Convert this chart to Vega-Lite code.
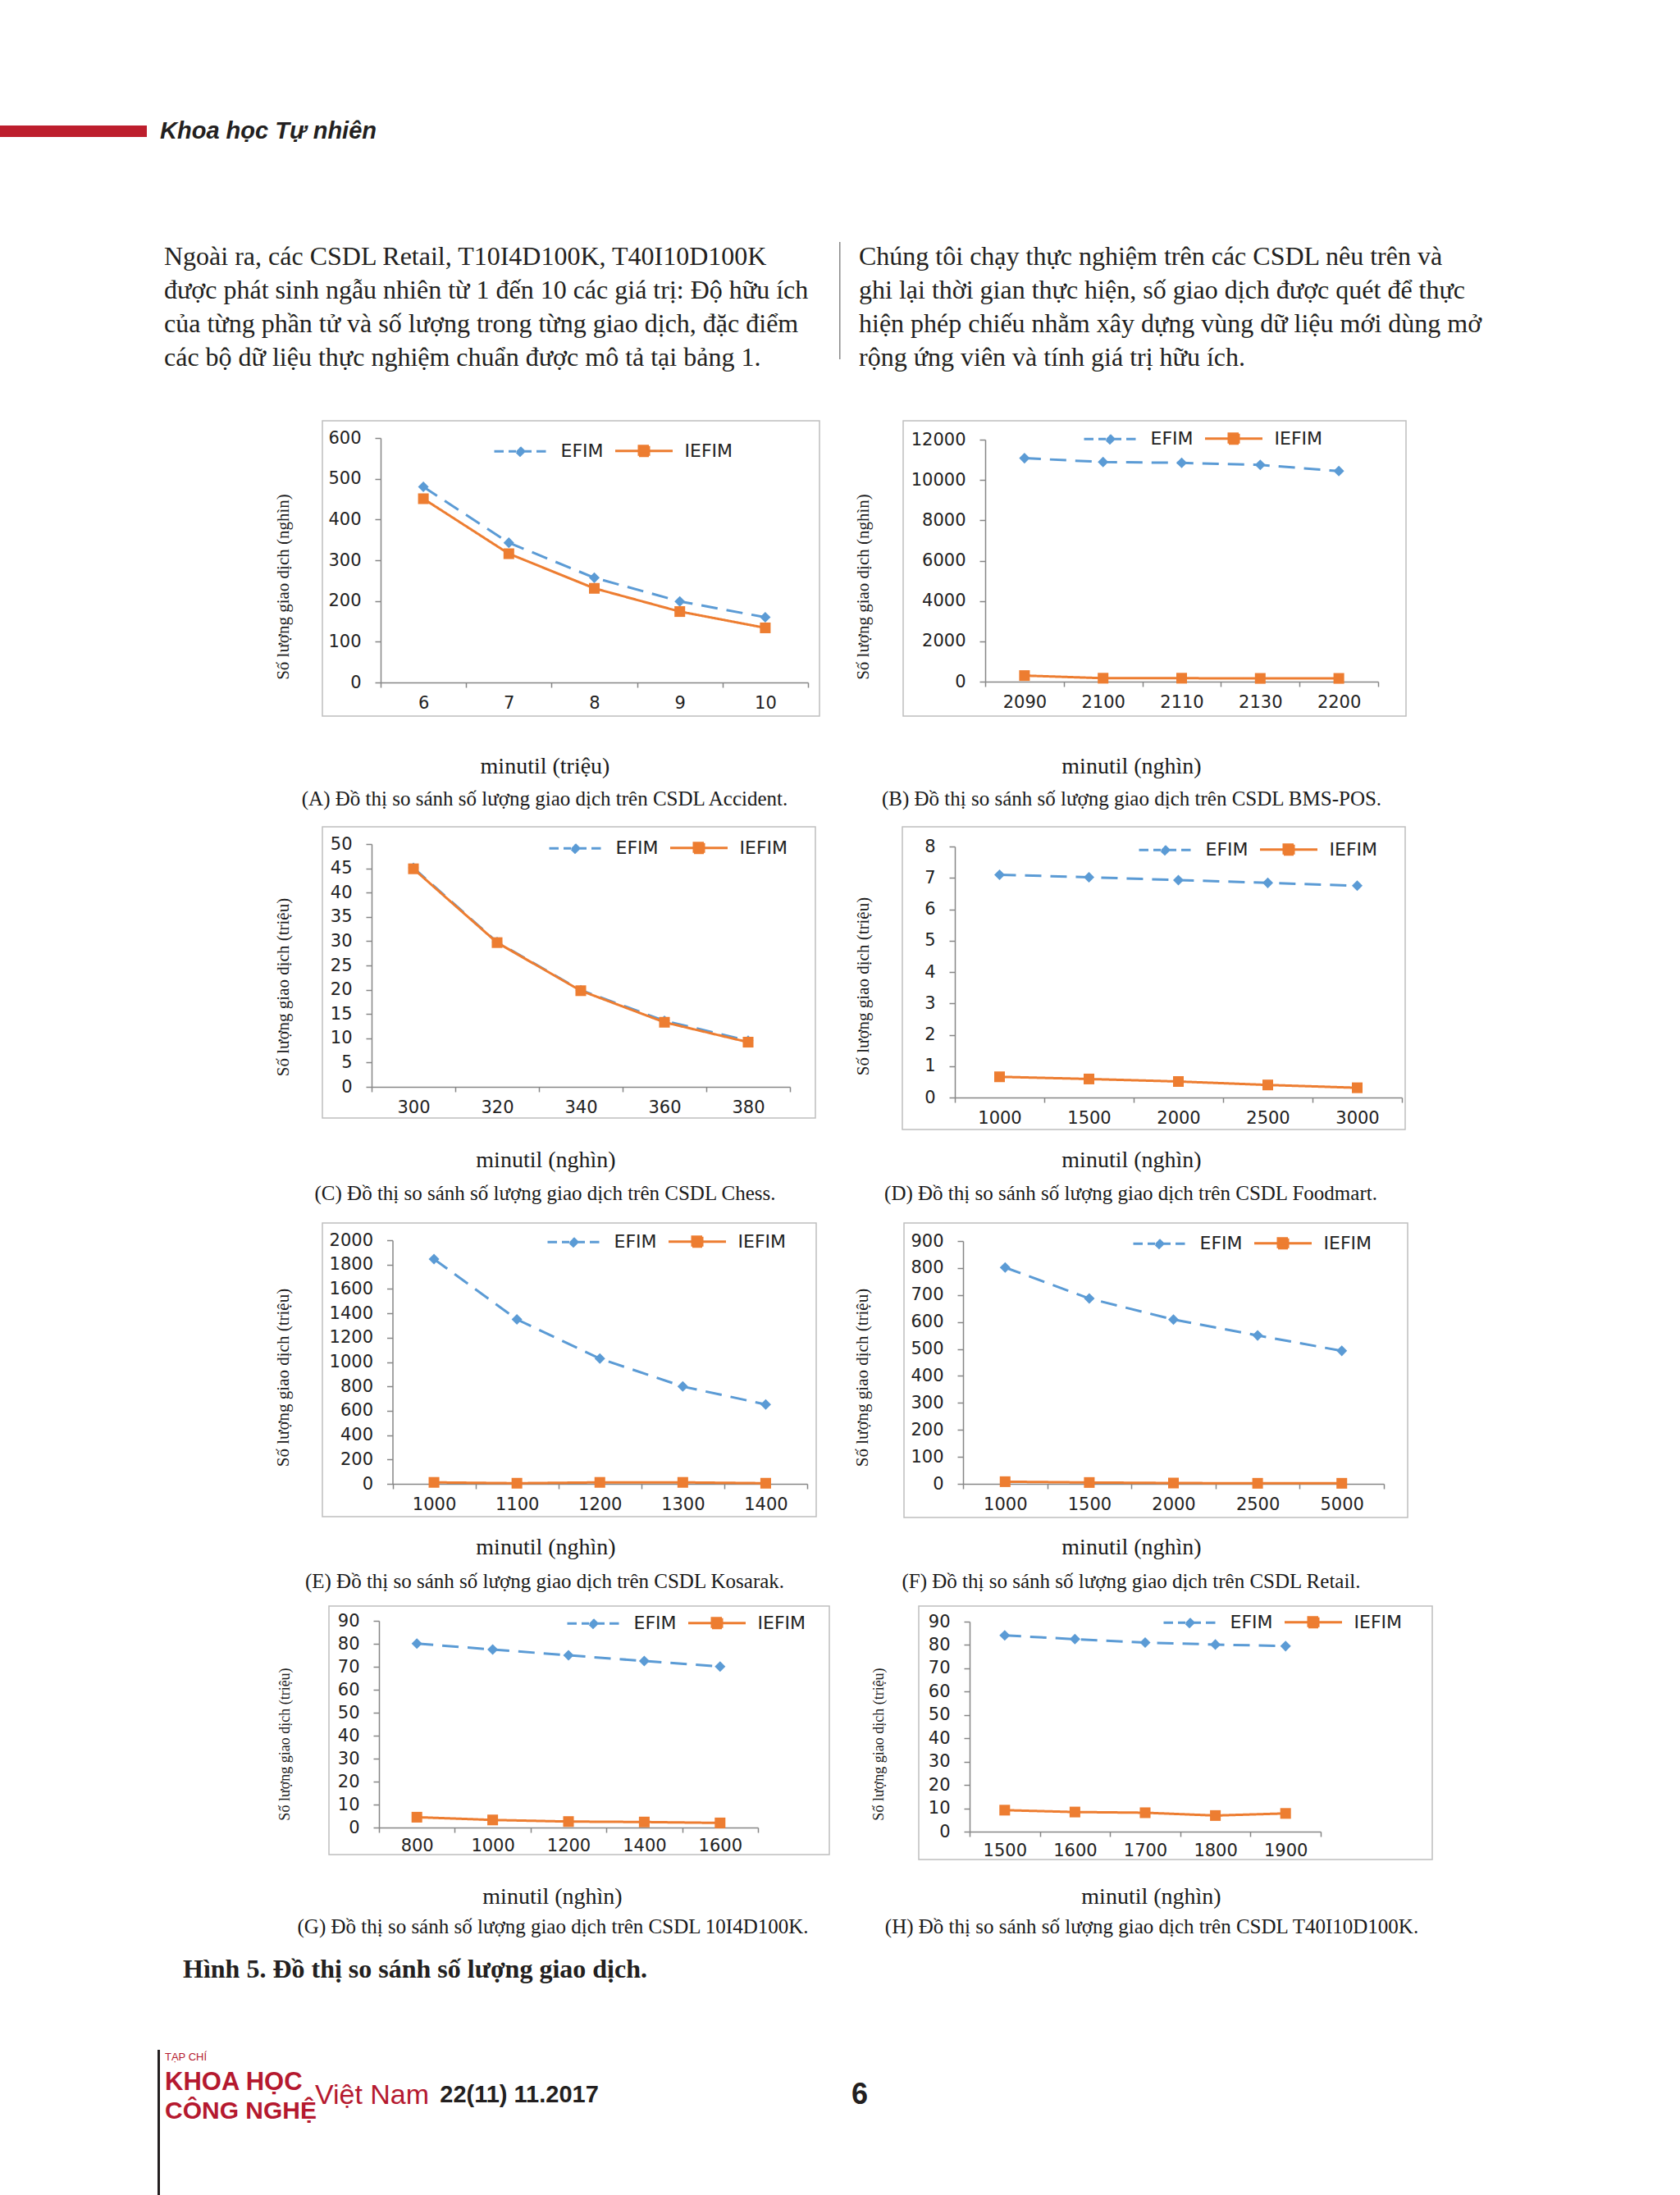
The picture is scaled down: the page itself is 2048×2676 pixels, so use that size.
{
"$schema": "https://vega.github.io/schema/vega-lite/v6.json",
"background": "white",
"padding": 0,
"spacing": 0,
"resolve": {"scale": {"color": "independent", "strokeDash": "independent"}, "legend": {"color": "independent", "strokeDash": "independent"}},
"datasets": {
"A": [
{"minutil": 6, "series": "EFIM", "value": 480},{"minutil": 7, "series": "EFIM", "value": 343},{"minutil": 8, "series": "EFIM", "value": 257},{"minutil": 9, "series": "EFIM", "value": 199},{"minutil": 10, "series": "EFIM", "value": 160},
{"minutil": 6, "series": "IEFIM", "value": 451},{"minutil": 7, "series": "IEFIM", "value": 316},{"minutil": 8, "series": "IEFIM", "value": 231},{"minutil": 9, "series": "IEFIM", "value": 174},{"minutil": 10, "series": "IEFIM", "value": 134}],
"B": [
{"minutil": 2090, "series": "EFIM", "value": 11080},{"minutil": 2100, "series": "EFIM", "value": 10890},{"minutil": 2110, "series": "EFIM", "value": 10850},{"minutil": 2130, "series": "EFIM", "value": 10750},{"minutil": 2200, "series": "EFIM", "value": 10440},
{"minutil": 2090, "series": "IEFIM", "value": 300},{"minutil": 2100, "series": "IEFIM", "value": 170},{"minutil": 2110, "series": "IEFIM", "value": 170},{"minutil": 2130, "series": "IEFIM", "value": 160},{"minutil": 2200, "series": "IEFIM", "value": 160}],
"C": [
{"minutil": 300, "series": "EFIM", "value": 45.1},{"minutil": 320, "series": "EFIM", "value": 29.8},{"minutil": 340, "series": "EFIM", "value": 19.9},{"minutil": 360, "series": "EFIM", "value": 13.6},{"minutil": 380, "series": "EFIM", "value": 9.5},
{"minutil": 300, "series": "IEFIM", "value": 44.9},{"minutil": 320, "series": "IEFIM", "value": 29.7},{"minutil": 340, "series": "IEFIM", "value": 19.8},{"minutil": 360, "series": "IEFIM", "value": 13.3},{"minutil": 380, "series": "IEFIM", "value": 9.2}],
"D": [
{"minutil": 1000, "series": "EFIM", "value": 7.10},{"minutil": 1500, "series": "EFIM", "value": 7.02},{"minutil": 2000, "series": "EFIM", "value": 6.93},{"minutil": 2500, "series": "EFIM", "value": 6.84},{"minutil": 3000, "series": "EFIM", "value": 6.75},
{"minutil": 1000, "series": "IEFIM", "value": 0.66},{"minutil": 1500, "series": "IEFIM", "value": 0.59},{"minutil": 2000, "series": "IEFIM", "value": 0.51},{"minutil": 2500, "series": "IEFIM", "value": 0.40},{"minutil": 3000, "series": "IEFIM", "value": 0.31}],
"E": [
{"minutil": 1000, "series": "EFIM", "value": 1845},{"minutil": 1100, "series": "EFIM", "value": 1350},{"minutil": 1200, "series": "EFIM", "value": 1028},{"minutil": 1300, "series": "EFIM", "value": 799},{"minutil": 1400, "series": "EFIM", "value": 652},
{"minutil": 1000, "series": "IEFIM", "value": 12},{"minutil": 1100, "series": "IEFIM", "value": 5},{"minutil": 1200, "series": "IEFIM", "value": 12},{"minutil": 1300, "series": "IEFIM", "value": 12},{"minutil": 1400, "series": "IEFIM", "value": 5}],
"F": [
{"minutil": 1000, "series": "EFIM", "value": 802},{"minutil": 1500, "series": "EFIM", "value": 687},{"minutil": 2000, "series": "EFIM", "value": 609},{"minutil": 2500, "series": "EFIM", "value": 550},{"minutil": 5000, "series": "EFIM", "value": 493},
{"minutil": 1000, "series": "IEFIM", "value": 8},{"minutil": 1500, "series": "IEFIM", "value": 5},{"minutil": 2000, "series": "IEFIM", "value": 3},{"minutil": 2500, "series": "IEFIM", "value": 2},{"minutil": 5000, "series": "IEFIM", "value": 2}],
"G": [
{"minutil": 800, "series": "EFIM", "value": 80.1},{"minutil": 1000, "series": "EFIM", "value": 77.5},{"minutil": 1200, "series": "EFIM", "value": 75.0},{"minutil": 1400, "series": "EFIM", "value": 72.5},{"minutil": 1600, "series": "EFIM", "value": 70.1},
{"minutil": 800, "series": "IEFIM", "value": 4.5},{"minutil": 1000, "series": "IEFIM", "value": 3.3},{"minutil": 1200, "series": "IEFIM", "value": 2.6},{"minutil": 1400, "series": "IEFIM", "value": 2.4},{"minutil": 1600, "series": "IEFIM", "value": 2.0}],
"H": [
{"minutil": 1500, "series": "EFIM", "value": 84.1},{"minutil": 1600, "series": "EFIM", "value": 82.5},{"minutil": 1700, "series": "EFIM", "value": 81.0},{"minutil": 1800, "series": "EFIM", "value": 80.2},{"minutil": 1900, "series": "EFIM", "value": 79.5},
{"minutil": 1500, "series": "IEFIM", "value": 9.2},{"minutil": 1600, "series": "IEFIM", "value": 8.4},{"minutil": 1700, "series": "IEFIM", "value": 8.1},{"minutil": 1800, "series": "IEFIM", "value": 6.9},{"minutil": 1900, "series": "IEFIM", "value": 7.8}]
},
"config": {
"view": {"stroke": null},
"concat": {"spacing": 0},
"axis": {"grid": false, "domainColor": "#868686", "domainWidth": 1.5, "tickColor": "#868686", "tickWidth": 1.5, "labelFont": "DejaVu Sans", "labelFontSize": 21, "labelColor": "#222222", "titleFont": "Liberation Serif", "titleFontWeight": "normal", "titleColor": "#1a1a1a", "titleBaseline": "middle", "titleAlign": "center", "labelOverlap": false},
"axisX": {"labelAngle": 0, "tickBand": "extent", "tickSize": 6, "labelPadding": 8, "titleFontSize": 28},
"axisY": {"tickSize": 7, "labelPadding": 17, "titleFontSize": 21},
"legend": {"labelFont": "DejaVu Sans", "labelFontSize": 22, "labelColor": "#222222", "symbolSize": 400, "labelOffset": 38, "columnPadding": 7, "padding": 0, "direction": "horizontal"},
"title": {"font": "Liberation Serif", "fontSize": 25, "fontWeight": "normal", "color": "#1a1a1a"}
},
"vconcat": [
{"width": 1, "height": 145, "data": {"values": []}, "mark": "point"},
{"hconcat": [
  {"width": 179, "height": 14, "view": {"fill": "#BD1E2D", "stroke": null}, "data": {"values": []}, "mark": "point"},
  {"width": 14, "height": 1, "data": {"values": []}, "mark": "point"},
  {"width": 268, "height": 30, "data": {"values": [{"label": "Khoa học Tự nhiên"}]}, "mark": {"type": "text", "font": "Liberation Sans", "fontSize": 29, "fontWeight": "bold", "fontStyle": "italic", "align": "center", "baseline": "middle", "color": "#231f20"}, "encoding": {"text": {"field": "label"}}}
 ], "spacing": 0, "bounds": "flush", "center": true},
{"width": 1, "height": 120, "data": {"values": []}, "mark": "point"},
{"hconcat": [
  {"width": 199, "height": 1, "data": {"values": []}, "mark": "point"},
  {"width": 2, "height": 179, "data": {"values": [
    {"line": 1, "text": "\u00a0\u00a0\u00a0\u00a0\u00a0\u00a0Ngoài ra, các CSDL Retail, T10I4D100K, T40I10D100K"},
    {"line": 2, "text": "được phát sinh ngẫu nhiên từ 1 đến 10 các giá trị: Độ hữu ích"},
    {"line": 3, "text": "của từng phần tử và số lượng trong từng giao dịch, đặc điểm"},
    {"line": 4, "text": "các bộ dữ liệu thực nghiệm chuẩn được mô tả tại bảng 1."}]},
   "mark": {"type": "text", "font": "Liberation Serif", "fontSize": 32, "align": "left", "baseline": "alphabetic", "color": "#231f20"},
   "encoding": {"y": {"field": "line", "type": "ordinal", "axis": null, "scale": {"type": "point", "padding": 0.683}}, "text": {"field": "text"}}},
  {"width": 822, "height": 1, "data": {"values": []}, "mark": "point"},
  {"width": 1.5, "height": 143, "view": {"fill": "#8a8a8a", "stroke": null}, "data": {"values": []}, "mark": "point"},
  {"width": 20.5, "height": 1, "data": {"values": []}, "mark": "point"},
  {"width": 2, "height": 179, "data": {"values": [
    {"line": 1, "text": "\u00a0\u00a0\u00a0\u00a0\u00a0\u00a0Chúng tôi chạy thực nghiệm trên các CSDL nêu trên và"},
    {"line": 2, "text": "ghi lại thời gian thực hiện, số giao dịch được quét để thực"},
    {"line": 3, "text": "hiện phép chiếu nhằm xây dựng vùng dữ liệu mới dùng mở"},
    {"line": 4, "text": "rộng ứng viên và tính giá trị hữu ích."}]},
   "mark": {"type": "text", "font": "Liberation Serif", "fontSize": 32, "align": "left", "baseline": "alphabetic", "color": "#231f20"},
   "encoding": {"y": {"field": "line", "type": "ordinal", "axis": null, "scale": {"type": "point", "padding": 0.683}}, "text": {"field": "text"}}}
 ], "spacing": 0, "bounds": "flush"},
{"width": 1, "height": 38, "data": {"values": []}, "mark": "point"},
{"hconcat": [
  {"width": 393, "height": 494, "data": {"values": []}, "mark": "point"},
  {"width": 606, "height": 360, "view": {"stroke": "#BFBFBF", "strokeWidth": 1.5}, "data": {"name": "A"},
   "title": {"text": "(A) Đồ thị so sánh số lượng giao dịch trên CSDL Accident.", "orient": "bottom", "anchor": "middle", "offset": 26, "dx": -32, "baseline": "middle"},
   "encoding": {
    "x": {"field": "minutil", "type": "ordinal", "sort": null, "bandPosition": 0.5, "scale": {"type": "band", "range": [71, 592], "paddingInner": 0, "paddingOuter": 0}, "axis": {"title": "minutil (triệu)", "offset": -41, "titleX": 271, "titleY": 102}},
    "y": {"field": "value", "type": "quantitative", "scale": {"domain": [0, 600], "range": [319, 21], "nice": false}, "axis": {"title": "Số lượng giao dịch (nghìn)", "offset": -71, "titleX": -119, "titleY": 202, "values": [0, 100, 200, 300, 400, 500, 600], "format": "d"}},
    "color": {"field": "series", "type": "nominal", "scale": {"domain": ["EFIM", "IEFIM"], "range": ["#5B9BD5", "#ED7D31"]}, "legend": {"title": null, "orient": "none", "legendX": 229.5, "legendY": 25, "symbolType": {"expr": "datum.value === 'EFIM' ? 'M-3.15,0H-2.0M-1.4,0H-0.5M0.5,0H1.4M2.0,0H3.15M0,-0.5L0.5,0L0,0.5L-0.5,0Z' : 'M-3.5,0H3.5M-0.6,-0.6H0.6V0.6H-0.6Z'"}, "symbolFillColor": {"expr": "datum.value === 'EFIM' ? '#5B9BD5' : '#ED7D31'"}, "symbolStrokeColor": {"expr": "datum.value === 'EFIM' ? '#5B9BD5' : '#ED7D31'"}, "symbolStrokeWidth": 3}}
   },
   "layer": [
    {"mark": {"type": "line", "strokeWidth": 3}, "encoding": {"strokeDash": {"field": "series", "type": "nominal", "scale": {"domain": ["EFIM", "IEFIM"], "range": [[20, 11], [1, 0]]}, "legend": null}}},
    {"transform": [{"filter": "datum.series === 'EFIM'"}], "mark": {"type": "point", "shape": "diamond", "filled": true, "size": 170, "opacity": 1}},
    {"transform": [{"filter": "datum.series === 'IEFIM'"}], "mark": {"type": "point", "shape": "square", "filled": true, "size": 170, "opacity": 1}}
   ]},
  {"width": 102, "height": 1, "data": {"values": []}, "mark": "point"},
  {"width": 613, "height": 360, "view": {"stroke": "#BFBFBF", "strokeWidth": 1.5}, "data": {"name": "B"},
   "title": {"text": "(B) Đồ thị so sánh số lượng giao dịch trên CSDL BMS-POS.", "orient": "bottom", "anchor": "middle", "offset": 26, "dx": -28, "baseline": "middle"},
   "encoding": {
    "x": {"field": "minutil", "type": "ordinal", "sort": null, "bandPosition": 0.5, "scale": {"type": "band", "range": [100, 579], "paddingInner": 0, "paddingOuter": 0}, "axis": {"title": "minutil (nghìn)", "offset": -42, "titleX": 278, "titleY": 103}},
    "y": {"field": "value", "type": "quantitative", "scale": {"domain": [0, 12000], "range": [318, 23], "nice": false}, "axis": {"title": "Số lượng giao dịch (nghìn)", "offset": -100, "titleX": -149, "titleY": 202, "values": [0, 2000, 4000, 6000, 8000, 10000, 12000], "format": "d"}},
    "color": {"field": "series", "type": "nominal", "scale": {"domain": ["EFIM", "IEFIM"], "range": ["#5B9BD5", "#ED7D31"]}, "legend": {"title": null, "orient": "none", "legendX": 240.5, "legendY": 10, "symbolType": {"expr": "datum.value === 'EFIM' ? 'M-3.15,0H-2.0M-1.4,0H-0.5M0.5,0H1.4M2.0,0H3.15M0,-0.5L0.5,0L0,0.5L-0.5,0Z' : 'M-3.5,0H3.5M-0.6,-0.6H0.6V0.6H-0.6Z'"}, "symbolFillColor": {"expr": "datum.value === 'EFIM' ? '#5B9BD5' : '#ED7D31'"}, "symbolStrokeColor": {"expr": "datum.value === 'EFIM' ? '#5B9BD5' : '#ED7D31'"}, "symbolStrokeWidth": 3}}
   },
   "layer": [
    {"mark": {"type": "line", "strokeWidth": 3}, "encoding": {"strokeDash": {"field": "series", "type": "nominal", "scale": {"domain": ["EFIM", "IEFIM"], "range": [[20, 11], [1, 0]]}, "legend": null}}},
    {"transform": [{"filter": "datum.series === 'EFIM'"}], "mark": {"type": "point", "shape": "diamond", "filled": true, "size": 170, "opacity": 1}},
    {"transform": [{"filter": "datum.series === 'IEFIM'"}], "mark": {"type": "point", "shape": "square", "filled": true, "size": 170, "opacity": 1}}
   ]}
 ], "spacing": 0, "bounds": "flush", "resolve": {"scale": {"color": "independent", "strokeDash": "independent"}, "legend": {"color": "independent", "strokeDash": "independent"}}},
{"hconcat": [
  {"width": 393, "height": 482, "data": {"values": []}, "mark": "point"},
  {"width": 601, "height": 355, "view": {"stroke": "#BFBFBF", "strokeWidth": 1.5}, "data": {"name": "C"},
   "title": {"text": "(C) Đồ thị so sánh số lượng giao dịch trên CSDL Chess.", "orient": "bottom", "anchor": "middle", "offset": 27, "dx": -29, "baseline": "middle"},
   "encoding": {
    "x": {"field": "minutil", "type": "ordinal", "sort": null, "bandPosition": 0.5, "scale": {"type": "band", "range": [60, 570], "paddingInner": 0, "paddingOuter": 0}, "axis": {"title": "minutil (nghìn)", "offset": -38, "titleX": 272, "titleY": 89}},
    "y": {"field": "value", "type": "quantitative", "scale": {"domain": [0, 50], "range": [317, 21], "nice": false}, "axis": {"title": "Số lượng giao dịch (triệu)", "offset": -60, "titleX": -108, "titleY": 195, "values": [0, 5, 10, 15, 20, 25, 30, 35, 40, 45, 50], "format": "d"}},
    "color": {"field": "series", "type": "nominal", "scale": {"domain": ["EFIM", "IEFIM"], "range": ["#5B9BD5", "#ED7D31"]}, "legend": {"title": null, "orient": "none", "legendX": 296.5, "legendY": 14, "symbolType": {"expr": "datum.value === 'EFIM' ? 'M-3.15,0H-2.0M-1.4,0H-0.5M0.5,0H1.4M2.0,0H3.15M0,-0.5L0.5,0L0,0.5L-0.5,0Z' : 'M-3.5,0H3.5M-0.6,-0.6H0.6V0.6H-0.6Z'"}, "symbolFillColor": {"expr": "datum.value === 'EFIM' ? '#5B9BD5' : '#ED7D31'"}, "symbolStrokeColor": {"expr": "datum.value === 'EFIM' ? '#5B9BD5' : '#ED7D31'"}, "symbolStrokeWidth": 3}}
   },
   "layer": [
    {"mark": {"type": "line", "strokeWidth": 3}, "encoding": {"strokeDash": {"field": "series", "type": "nominal", "scale": {"domain": ["EFIM", "IEFIM"], "range": [[20, 11], [1, 0]]}, "legend": null}}},
    {"transform": [{"filter": "datum.series === 'EFIM'"}], "mark": {"type": "point", "shape": "diamond", "filled": true, "size": 170, "opacity": 1}},
    {"transform": [{"filter": "datum.series === 'IEFIM'"}], "mark": {"type": "point", "shape": "square", "filled": true, "size": 170, "opacity": 1}}
   ]},
  {"width": 106, "height": 1, "data": {"values": []}, "mark": "point"},
  {"width": 613, "height": 369, "view": {"stroke": "#BFBFBF", "strokeWidth": 1.5}, "data": {"name": "D"},
   "title": {"text": "(D) Đồ thị so sánh số lượng giao dịch trên CSDL Foodmart.", "orient": "bottom", "anchor": "middle", "offset": 27, "dx": -28, "baseline": "middle"},
   "encoding": {
    "x": {"field": "minutil", "type": "ordinal", "sort": null, "bandPosition": 0.5, "scale": {"type": "band", "range": [64, 609], "paddingInner": 0, "paddingOuter": 0}, "axis": {"title": "minutil (nghìn)", "offset": -39, "titleX": 279, "titleY": 76}},
    "y": {"field": "value", "type": "quantitative", "scale": {"domain": [0, 8], "range": [330, 24], "nice": false}, "axis": {"title": "Số lượng giao dịch (triệu)", "offset": -64, "titleX": -112, "titleY": 194, "values": [0, 1, 2, 3, 4, 5, 6, 7, 8], "format": "d"}},
    "color": {"field": "series", "type": "nominal", "scale": {"domain": ["EFIM", "IEFIM"], "range": ["#5B9BD5", "#ED7D31"]}, "legend": {"title": null, "orient": "none", "legendX": 308.5, "legendY": 16, "symbolType": {"expr": "datum.value === 'EFIM' ? 'M-3.15,0H-2.0M-1.4,0H-0.5M0.5,0H1.4M2.0,0H3.15M0,-0.5L0.5,0L0,0.5L-0.5,0Z' : 'M-3.5,0H3.5M-0.6,-0.6H0.6V0.6H-0.6Z'"}, "symbolFillColor": {"expr": "datum.value === 'EFIM' ? '#5B9BD5' : '#ED7D31'"}, "symbolStrokeColor": {"expr": "datum.value === 'EFIM' ? '#5B9BD5' : '#ED7D31'"}, "symbolStrokeWidth": 3}}
   },
   "layer": [
    {"mark": {"type": "line", "strokeWidth": 3}, "encoding": {"strokeDash": {"field": "series", "type": "nominal", "scale": {"domain": ["EFIM", "IEFIM"], "range": [[20, 11], [1, 0]]}, "legend": null}}},
    {"transform": [{"filter": "datum.series === 'EFIM'"}], "mark": {"type": "point", "shape": "diamond", "filled": true, "size": 170, "opacity": 1}},
    {"transform": [{"filter": "datum.series === 'IEFIM'"}], "mark": {"type": "point", "shape": "square", "filled": true, "size": 170, "opacity": 1}}
   ]}
 ], "spacing": 0, "bounds": "flush", "resolve": {"scale": {"color": "independent", "strokeDash": "independent"}, "legend": {"color": "independent", "strokeDash": "independent"}}},
{"hconcat": [
  {"width": 393, "height": 466, "data": {"values": []}, "mark": "point"},
  {"width": 602, "height": 358, "view": {"stroke": "#BFBFBF", "strokeWidth": 1.5}, "data": {"name": "E"},
   "title": {"text": "(E) Đồ thị so sánh số lượng giao dịch trên CSDL Kosarak.", "orient": "bottom", "anchor": "middle", "offset": 28, "dx": -30, "baseline": "middle"},
   "encoding": {
    "x": {"field": "minutil", "type": "ordinal", "sort": null, "bandPosition": 0.5, "scale": {"type": "band", "range": [85.5, 591], "paddingInner": 0, "paddingOuter": 0}, "axis": {"title": "minutil (nghìn)", "offset": -40, "titleX": 272, "titleY": 77}},
    "y": {"field": "value", "type": "quantitative", "scale": {"domain": [0, 2000], "range": [318, 21], "nice": false}, "axis": {"title": "Số lượng giao dịch (triệu)", "offset": -85.5, "titleX": -133.5, "titleY": 188, "values": [0, 200, 400, 600, 800, 1000, 1200, 1400, 1600, 1800, 2000], "format": "d"}},
    "color": {"field": "series", "type": "nominal", "scale": {"domain": ["EFIM", "IEFIM"], "range": ["#5B9BD5", "#ED7D31"]}, "legend": {"title": null, "orient": "none", "legendX": 294.5, "legendY": 11, "symbolType": {"expr": "datum.value === 'EFIM' ? 'M-3.15,0H-2.0M-1.4,0H-0.5M0.5,0H1.4M2.0,0H3.15M0,-0.5L0.5,0L0,0.5L-0.5,0Z' : 'M-3.5,0H3.5M-0.6,-0.6H0.6V0.6H-0.6Z'"}, "symbolFillColor": {"expr": "datum.value === 'EFIM' ? '#5B9BD5' : '#ED7D31'"}, "symbolStrokeColor": {"expr": "datum.value === 'EFIM' ? '#5B9BD5' : '#ED7D31'"}, "symbolStrokeWidth": 3}}
   },
   "layer": [
    {"mark": {"type": "line", "strokeWidth": 3}, "encoding": {"strokeDash": {"field": "series", "type": "nominal", "scale": {"domain": ["EFIM", "IEFIM"], "range": [[20, 11], [1, 0]]}, "legend": null}}},
    {"transform": [{"filter": "datum.series === 'EFIM'"}], "mark": {"type": "point", "shape": "diamond", "filled": true, "size": 170, "opacity": 1}},
    {"transform": [{"filter": "datum.series === 'IEFIM'"}], "mark": {"type": "point", "shape": "square", "filled": true, "size": 170, "opacity": 1}}
   ]},
  {"width": 107, "height": 1, "data": {"values": []}, "mark": "point"},
  {"width": 614, "height": 359, "view": {"stroke": "#BFBFBF", "strokeWidth": 1.5}, "data": {"name": "F"},
   "title": {"text": "(F) Đồ thị so sánh số lượng giao dịch trên CSDL Retail.", "orient": "bottom", "anchor": "middle", "offset": 28, "dx": -30, "baseline": "middle"},
   "encoding": {
    "x": {"field": "minutil", "type": "ordinal", "sort": null, "bandPosition": 0.5, "scale": {"type": "band", "range": [72, 585], "paddingInner": 0, "paddingOuter": 0}, "axis": {"title": "minutil (nghìn)", "offset": -41, "titleX": 277, "titleY": 77}},
    "y": {"field": "value", "type": "quantitative", "scale": {"domain": [0, 900], "range": [318, 22], "nice": false}, "axis": {"title": "Số lượng giao dịch (triệu)", "offset": -72, "titleX": -123, "titleY": 188, "values": [0, 100, 200, 300, 400, 500, 600, 700, 800, 900], "format": "d"}},
    "color": {"field": "series", "type": "nominal", "scale": {"domain": ["EFIM", "IEFIM"], "range": ["#5B9BD5", "#ED7D31"]}, "legend": {"title": null, "orient": "none", "legendX": 299.5, "legendY": 13, "symbolType": {"expr": "datum.value === 'EFIM' ? 'M-3.15,0H-2.0M-1.4,0H-0.5M0.5,0H1.4M2.0,0H3.15M0,-0.5L0.5,0L0,0.5L-0.5,0Z' : 'M-3.5,0H3.5M-0.6,-0.6H0.6V0.6H-0.6Z'"}, "symbolFillColor": {"expr": "datum.value === 'EFIM' ? '#5B9BD5' : '#ED7D31'"}, "symbolStrokeColor": {"expr": "datum.value === 'EFIM' ? '#5B9BD5' : '#ED7D31'"}, "symbolStrokeWidth": 3}}
   },
   "layer": [
    {"mark": {"type": "line", "strokeWidth": 3}, "encoding": {"strokeDash": {"field": "series", "type": "nominal", "scale": {"domain": ["EFIM", "IEFIM"], "range": [[20, 11], [1, 0]]}, "legend": null}}},
    {"transform": [{"filter": "datum.series === 'EFIM'"}], "mark": {"type": "point", "shape": "diamond", "filled": true, "size": 170, "opacity": 1}},
    {"transform": [{"filter": "datum.series === 'IEFIM'"}], "mark": {"type": "point", "shape": "square", "filled": true, "size": 170, "opacity": 1}}
   ]}
 ], "spacing": 0, "bounds": "flush", "resolve": {"scale": {"color": "independent", "strokeDash": "independent"}, "legend": {"color": "independent", "strokeDash": "independent"}}},
{"hconcat": [
  {"width": 401, "height": 423, "data": {"values": []}, "mark": "point"},
  {"width": 610, "height": 303, "view": {"stroke": "#BFBFBF", "strokeWidth": 1.5}, "data": {"name": "G"},
   "title": {"text": "(G) Đồ thị so sánh số lượng giao dịch trên CSDL 10I4D100K.", "orient": "bottom", "anchor": "middle", "offset": 23, "dx": -32, "baseline": "middle"},
   "encoding": {
    "x": {"field": "minutil", "type": "ordinal", "sort": null, "bandPosition": 0.5, "scale": {"type": "band", "range": [61, 523], "paddingInner": 0, "paddingOuter": 0}, "axis": {"title": "minutil (nghìn)", "offset": -33, "titleX": 272, "titleY": 84, "labelPadding": 5}},
    "y": {"field": "value", "type": "quantitative", "scale": {"domain": [0, 90], "range": [270, 18], "nice": false}, "axis": {"title": "Số lượng giao dịch (triệu)", "offset": -61, "titleX": -114.5, "titleY": 168, "titleFontSize": 18, "values": [0, 10, 20, 30, 40, 50, 60, 70, 80, 90], "format": "d"}},
    "color": {"field": "series", "type": "nominal", "scale": {"domain": ["EFIM", "IEFIM"], "range": ["#5B9BD5", "#ED7D31"]}, "legend": {"title": null, "orient": "none", "legendX": 310.5, "legendY": 9, "symbolType": {"expr": "datum.value === 'EFIM' ? 'M-3.15,0H-2.0M-1.4,0H-0.5M0.5,0H1.4M2.0,0H3.15M0,-0.5L0.5,0L0,0.5L-0.5,0Z' : 'M-3.5,0H3.5M-0.6,-0.6H0.6V0.6H-0.6Z'"}, "symbolFillColor": {"expr": "datum.value === 'EFIM' ? '#5B9BD5' : '#ED7D31'"}, "symbolStrokeColor": {"expr": "datum.value === 'EFIM' ? '#5B9BD5' : '#ED7D31'"}, "symbolStrokeWidth": 3}}
   },
   "layer": [
    {"mark": {"type": "line", "strokeWidth": 3}, "encoding": {"strokeDash": {"field": "series", "type": "nominal", "scale": {"domain": ["EFIM", "IEFIM"], "range": [[20, 11], [1, 0]]}, "legend": null}}},
    {"transform": [{"filter": "datum.series === 'EFIM'"}], "mark": {"type": "point", "shape": "diamond", "filled": true, "size": 170, "opacity": 1}},
    {"transform": [{"filter": "datum.series === 'IEFIM'"}], "mark": {"type": "point", "shape": "square", "filled": true, "size": 170, "opacity": 1}}
   ]},
  {"width": 109, "height": 1, "data": {"values": []}, "mark": "point"},
  {"width": 626, "height": 309, "view": {"stroke": "#BFBFBF", "strokeWidth": 1.5}, "data": {"name": "H"},
   "title": {"text": "(H) Đồ thị so sánh số lượng giao dịch trên CSDL T40I10D100K.", "orient": "bottom", "anchor": "middle", "offset": 23, "dx": -29, "baseline": "middle"},
   "encoding": {
    "x": {"field": "minutil", "type": "ordinal", "sort": null, "bandPosition": 0.5, "scale": {"type": "band", "range": [62, 490], "paddingInner": 0, "paddingOuter": 0}, "axis": {"title": "minutil (nghìn)", "offset": -34, "titleX": 283, "titleY": 79, "labelPadding": 6}},
    "y": {"field": "value", "type": "quantitative", "scale": {"domain": [0, 90], "range": [275, 19], "nice": false}, "axis": {"title": "Số lượng giao dịch (triệu)", "offset": -62, "titleX": -111, "titleY": 168, "titleFontSize": 18, "values": [0, 10, 20, 30, 40, 50, 60, 70, 80, 90], "format": "d"}},
    "color": {"field": "series", "type": "nominal", "scale": {"domain": ["EFIM", "IEFIM"], "range": ["#5B9BD5", "#ED7D31"]}, "legend": {"title": null, "orient": "none", "legendX": 318.5, "legendY": 8, "symbolType": {"expr": "datum.value === 'EFIM' ? 'M-3.15,0H-2.0M-1.4,0H-0.5M0.5,0H1.4M2.0,0H3.15M0,-0.5L0.5,0L0,0.5L-0.5,0Z' : 'M-3.5,0H3.5M-0.6,-0.6H0.6V0.6H-0.6Z'"}, "symbolFillColor": {"expr": "datum.value === 'EFIM' ? '#5B9BD5' : '#ED7D31'"}, "symbolStrokeColor": {"expr": "datum.value === 'EFIM' ? '#5B9BD5' : '#ED7D31'"}, "symbolStrokeWidth": 3}}
   },
   "layer": [
    {"mark": {"type": "line", "strokeWidth": 3}, "encoding": {"strokeDash": {"field": "series", "type": "nominal", "scale": {"domain": ["EFIM", "IEFIM"], "range": [[20, 11], [1, 0]]}, "legend": null}}},
    {"transform": [{"filter": "datum.series === 'EFIM'"}], "mark": {"type": "point", "shape": "diamond", "filled": true, "size": 170, "opacity": 1}},
    {"transform": [{"filter": "datum.series === 'IEFIM'"}], "mark": {"type": "point", "shape": "square", "filled": true, "size": 170, "opacity": 1}}
   ]}
 ], "spacing": 0, "bounds": "flush", "resolve": {"scale": {"color": "independent", "strokeDash": "independent"}, "legend": {"color": "independent", "strokeDash": "independent"}}},
{"hconcat": [
  {"width": 211, "height": 1, "data": {"values": []}, "mark": "point"},
  {"width": 590, "height": 40, "data": {"values": [{"label": "Hình 5. Đồ thị so sánh số lượng giao dịch."}]}, "mark": {"type": "text", "font": "Liberation Serif", "fontSize": 32, "fontWeight": "bold", "align": "center", "baseline": "middle", "color": "#231f20"}, "encoding": {"text": {"field": "label"}}}
 ], "spacing": 0, "bounds": "flush"},
{"width": 1, "height": 78, "data": {"values": []}, "mark": "point"},
{"hconcat": [
  {"width": 192, "height": 1, "data": {"values": []}, "mark": "point"},
  {"width": 3, "height": 181, "view": {"fill": "#231f20", "stroke": null}, "data": {"values": []}, "mark": "point"},
  {"width": 5, "height": 1, "data": {"values": []}, "mark": "point"},
  {"width": 2, "height": 100,
   "encoding": {"y": {"field": "line", "type": "ordinal", "axis": null, "scale": {"type": "point", "domain": [1, 2, 3], "range": [13, 84], "padding": 0}}, "text": {"field": "label"}},
   "layer": [
    {"data": {"values": [{"line": 1, "label": "TẠP CHÍ"}]}, "mark": {"type": "text", "font": "Liberation Sans", "fontSize": 13, "align": "left", "baseline": "alphabetic", "color": "#B5192F"}},
    {"data": {"values": [{"line": 2, "label": "KHOA HỌC"}]}, "mark": {"type": "text", "font": "Liberation Sans", "fontSize": 31, "fontWeight": "bold", "align": "left", "baseline": "alphabetic", "color": "#B5192F"}},
    {"data": {"values": [{"line": 3, "label": "CÔNG NGHỆ"}]}, "mark": {"type": "text", "font": "Liberation Sans", "fontSize": 30, "fontWeight": "bold", "align": "left", "baseline": "alphabetic", "color": "#B5192F"}}
   ]},
  {"width": 185, "height": 1, "data": {"values": []}, "mark": "point"},
  {"width": 133, "height": 112, "data": {"values": [{"label": "Việt Nam"}]}, "mark": {"type": "text", "font": "Liberation Sans", "fontSize": 34, "align": "center", "baseline": "middle", "color": "#B5192F"}, "encoding": {"text": {"field": "label"}}},
  {"width": 12, "height": 1, "data": {"values": []}, "mark": "point"},
  {"width": 202, "height": 110, "data": {"values": [{"label": "22(11) 11.2017"}]}, "mark": {"type": "text", "font": "Liberation Sans", "fontSize": 29, "fontWeight": "bold", "align": "center", "baseline": "middle", "color": "#231f20"}, "encoding": {"text": {"field": "label"}}},
  {"width": 306, "height": 1, "data": {"values": []}, "mark": "point"},
  {"width": 16, "height": 110, "data": {"values": [{"label": "6"}]}, "mark": {"type": "text", "font": "Liberation Sans", "fontSize": 36, "fontWeight": "bold", "align": "center", "baseline": "middle", "color": "#231f20"}, "encoding": {"text": {"field": "label"}}}
 ], "spacing": 0, "bounds": "flush"}
]
}
